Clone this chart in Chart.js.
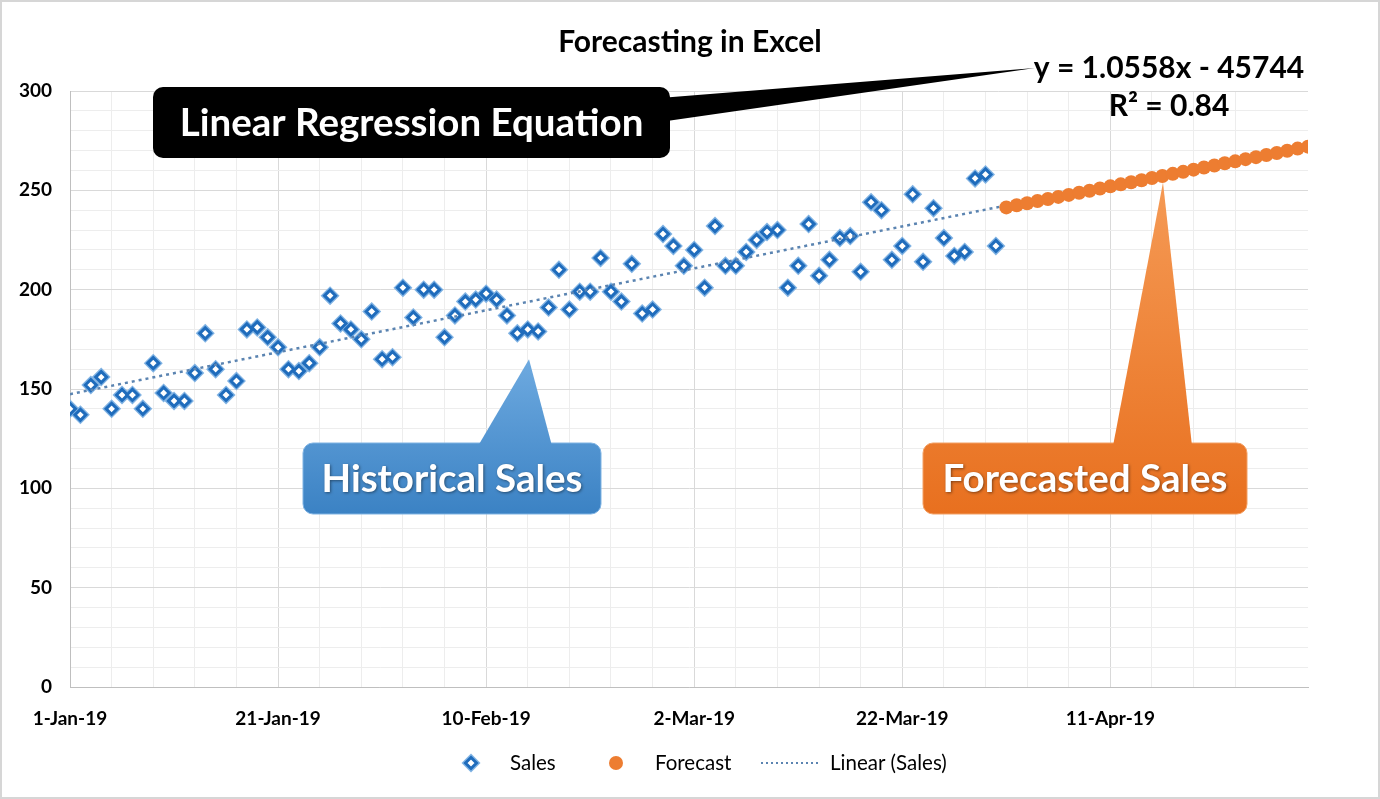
<!DOCTYPE html>
<html>
<head>
<meta charset="utf-8">
<script src="https://cdn.jsdelivr.net/npm/chart.js@4.4.0/dist/chart.umd.min.js"></script>
<style>
html,body{margin:0;padding:0;background:#fff;overflow:hidden}
#wrap{position:relative;width:1380px;height:799px}
</style>
</head>
<body>
<div id="wrap"><canvas id="c" width="1380" height="799"></canvas></div>
<script>
// ---- data ----
const chartTitle = 'Forecasting in Excel';
// day offsets from 1-Jan-19
const salesStartDay = 0;
const forecastStartDay = 90;
const axisMaxDay = 119;
const sales = [
  140,137,152,156,140,147,147,140,163,148,144,144,158,178,160,147,154,180,181,176,171,160,159,163,171,
  197,183,180,175,189,165,166,201,186,200,200,176,187,194,195,198,195,187,178,180,179,191,210,190,199,199,216,
  199,194,213,188,190,228,222,212,220,201,232,212,212,219,225,229,230,201,212,233,207,215,226,227,209,244,
  240,215,222,248,214,241,226,217,219,256,258,222
];
const forecast = [
  241.4,242.5,243.5,244.6,245.6,246.7,247.7,248.8,249.8,250.9,252.0,253.0,254.1,255.1,256.2,
  257.2,258.3,259.3,260.4,261.5,262.5,263.6,264.6,265.7,266.7,267.8,268.8,269.9,271.0,272.0
];
const trendDays = [0, 119];
const trendValues = [147.4, 273.0];
const xTickDays = [0, 20, 40, 60, 80, 100];
const xTickLabels = ['1-Jan-19', '21-Jan-19', '10-Feb-19', '2-Mar-19', '22-Mar-19', '11-Apr-19'];
const yTickValues = [0, 50, 100, 150, 200, 250, 300];
const equationLines = ['y = 1.0558x - 45744', 'R\u00B2 = 0.84'];
const calloutTexts = ['Linear Regression Equation', 'Historical Sales', 'Forecasted Sales'];
const legendLabels = ['Sales', 'Forecast', 'Linear (Sales)'];

// ---- styles ----
const FONT = 'Lato, "Open Sans", sans-serif';
const SALES_RING = '#1f6cbc';
const SALES_HALO = '#7fb2e3';
const ORANGE = '#ED7D31';
const TREND = '#5b84b1';

const salesPts = sales.map((v, i) => ({x: salesStartDay + i, y: v}));
const forecastPts = forecast.map((v, i) => ({x: forecastStartDay + i, y: v}));
const trendPts = trendDays.map((d, i) => ({x: d, y: trendValues[i]}));

function rr(ctx, x, y, w, h, r) {
  ctx.beginPath();
  ctx.moveTo(x + r, y);
  ctx.lineTo(x + w - r, y);
  ctx.arcTo(x + w, y, x + w, y + r, r);
  ctx.lineTo(x + w, y + h - r);
  ctx.arcTo(x + w, y + h, x + w - r, y + h, r);
  ctx.lineTo(x + r, y + h);
  ctx.arcTo(x, y + h, x, y + h - r, r);
  ctx.lineTo(x, y + r);
  ctx.arcTo(x, y, x + r, y, r);
  ctx.closePath();
}

function callout(ctx, box, tri, fill, stroke, text) {
  ctx.save();
  ctx.fillStyle = fill;
  rr(ctx, box[0], box[1], box[2], box[3], 10);
  ctx.fill();
  if (stroke) { ctx.strokeStyle = stroke; ctx.lineWidth = 1; ctx.stroke(); }
  ctx.beginPath();
  ctx.moveTo(tri[0][0], tri[0][1]);
  ctx.lineTo(tri[1][0], tri[1][1]);
  ctx.lineTo(tri[2][0], tri[2][1]);
  ctx.closePath();
  ctx.fill();
  ctx.shadowColor = 'rgba(0,0,0,0.45)';
  ctx.shadowBlur = 3;
  ctx.shadowOffsetX = 1;
  ctx.shadowOffsetY = 1;
  ctx.fillStyle = '#fff';
  ctx.font = 'bold 38.5px ' + FONT;
  ctx.textAlign = 'center';
  ctx.textBaseline = 'middle';
  ctx.fillText(text, box[0] + box[2] / 2, box[1] + box[3] / 2 + 1);
  ctx.restore();
}

function diamond(ctx, cx, cy, r) {
  ctx.beginPath();
  ctx.moveTo(cx, cy - r); ctx.lineTo(cx + r, cy); ctx.lineTo(cx, cy + r); ctx.lineTo(cx - r, cy);
  ctx.closePath();
}

const decor = {
  id: 'decor',
  afterDraw(chart) {
    const ctx = chart.ctx;
    const y = chart.scales.y;
    ctx.save();
    // frame
    ctx.strokeStyle = '#d6d6d6';
    ctx.lineWidth = 2;
    ctx.strokeRect(1, 1, 1378, 797);

    // title
    ctx.fillStyle = '#000';
    ctx.font = 'bold 30px ' + FONT;
    ctx.textAlign = 'center';
    ctx.textBaseline = 'middle';
    ctx.fillText(chartTitle, 690, 42);

    // black callout pointing at equation
    callout(ctx, [153, 87, 517, 71], [[660, 98], [660, 122], [1035, 68]], '#000', null, calloutTexts[0]);

    // blue callout
    let g = ctx.createLinearGradient(0, 358, 0, 514);
    g.addColorStop(0, '#6eaae0');
    g.addColorStop(1, '#3b82c4');
    callout(ctx, [303, 443, 298, 71], [[478, 446], [552, 446], [529, y.getPixelForValue(165)]], g, '#7fb3e3', calloutTexts[1]);

    // orange callout
    g = ctx.createLinearGradient(0, 183, 0, 514);
    g.addColorStop(0, '#f59a55');
    g.addColorStop(1, '#e8701f');
    callout(ctx, [923, 443, 324, 71], [[1113, 446], [1192, 446], [1163, y.getPixelForValue(254)]], g, '#f3a064', calloutTexts[2]);

    // equation
    ctx.fillStyle = '#000';
    ctx.font = 'bold 30px ' + FONT;
    ctx.textAlign = 'center';
    ctx.textBaseline = 'middle';
    ctx.fillText(equationLines[0], 1169, 68);
    ctx.fillText(equationLines[1], 1169, 106);

    // legend
    const ly = 763;
    ctx.fillStyle = SALES_HALO;
    diamond(ctx, 471, ly, 9.5);
    ctx.fill();
    ctx.fillStyle = '#fff';
    ctx.strokeStyle = SALES_RING;
    ctx.lineWidth = 3;
    diamond(ctx, 471, ly, 5.5);
    ctx.fill(); ctx.stroke();

    ctx.fillStyle = ORANGE;
    ctx.beginPath(); ctx.arc(616, ly, 7, 0, Math.PI * 2); ctx.fill();

    ctx.strokeStyle = TREND;
    ctx.lineWidth = 2;
    ctx.setLineDash([2, 3]);
    ctx.beginPath(); ctx.moveTo(761, ly); ctx.lineTo(820, ly); ctx.stroke();
    ctx.setLineDash([]);

    ctx.fillStyle = '#000';
    ctx.font = '20.5px ' + FONT;
    ctx.textAlign = 'left';
    ctx.textBaseline = 'middle';
    ctx.fillText(legendLabels[0], 510, ly);
    ctx.fillText(legendLabels[1], 655, ly);
    ctx.fillText(legendLabels[2], 830, ly);
    ctx.restore();
  }
};

new Chart(document.getElementById('c'), {
  type: 'scatter',
  data: {
    datasets: [
      {label: legendLabels[1], data: forecastPts, pointStyle: 'circle', pointRadius: 7,
       backgroundColor: ORANGE, borderWidth: 0, order: 0},
      {label: legendLabels[2], type: 'line', data: trendPts, borderColor: TREND, borderWidth: 2.5,
       borderDash: [3, 4], pointRadius: 0, fill: false, order: 1},
      {label: legendLabels[0], data: salesPts, pointStyle: 'rectRot', pointRadius: 5.5,
       borderWidth: 3, borderColor: SALES_RING, backgroundColor: '#fff', order: 2},
      {label: 'halo', data: salesPts, pointStyle: 'rectRot', pointRadius: 9.5,
       backgroundColor: SALES_HALO, borderWidth: 0, order: 3}
    ]
  },
  options: {
    responsive: false,
    animation: false,
    events: [],
    layout: {padding: {left: 0, right: 72, top: 91, bottom: 0}},
    plugins: {
      legend: {display: false},
      tooltip: {enabled: false},
      title: {display: false}
    },
    scales: {
      x: {
        type: 'linear', min: 0, max: axisMaxDay,
        afterFit(s) { s.height = 112; },
        grid: {
          drawTicks: false,
          color: c => (c.tick.value === axisMaxDay ? 'rgba(0,0,0,0)' : (c.tick.value % 20 === 0 ? '#d9d9d9' : '#ededed'))
        },
        border: {color: '#bfbfbf', width: 1},
        ticks: {
          stepSize: 4, autoSkip: false, maxRotation: 0, padding: 20, color: '#000',
          font: {family: FONT, size: 19, weight: 'bold'},
          callback: v => { const i = xTickDays.indexOf(v); return i >= 0 ? xTickLabels[i] : ''; }
        }
      },
      y: {
        min: 0, max: 300,
        afterFit(s) { s.width = 70; },
        grid: {
          drawTicks: false,
          color: c => (c.tick.value % 50 === 0 ? '#d9d9d9' : '#ededed')
        },
        border: {color: '#bfbfbf', width: 1},
        ticks: {
          stepSize: 10, autoSkip: false, padding: 18, color: '#000',
          font: {family: FONT, size: 19, weight: 'bold'},
          callback: v => (yTickValues.includes(v) ? String(v) : '')
        }
      }
    }
  },
  plugins: [decor]
});
</script>
</body>
</html>
